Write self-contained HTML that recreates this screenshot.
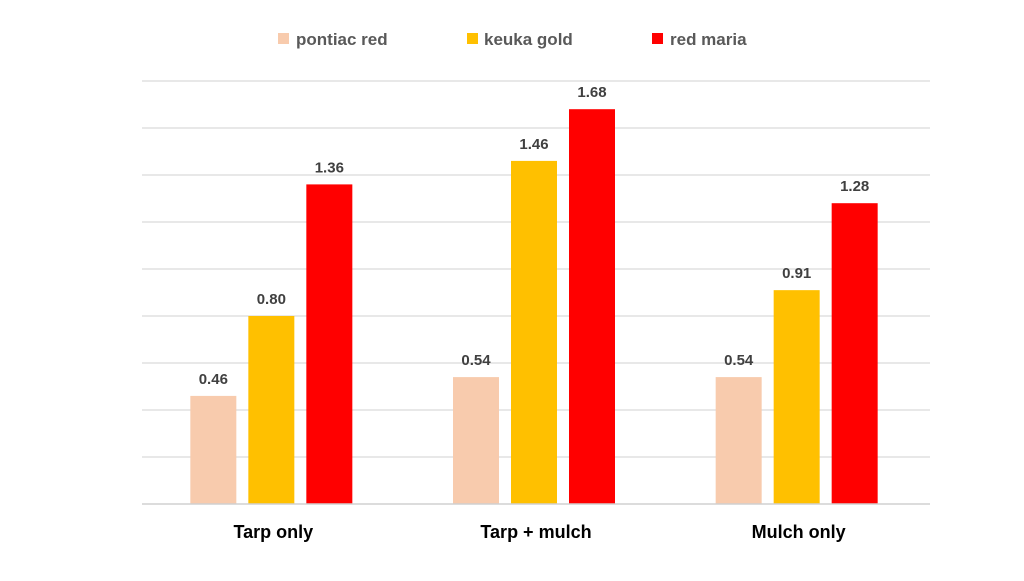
<!DOCTYPE html>
<html><head><meta charset="utf-8"><style>
body{margin:0;background:#fff;width:1024px;height:576px;overflow:hidden;font-family:"Liberation Sans",Arial,sans-serif}
text{font-family:"Liberation Sans",Arial,sans-serif;font-weight:bold}
</style></head><body>
<svg id="chart" width="1024" height="576">
<g id="legend">
<g><rect x="278" y="33" width="11" height="11" fill="#f8cbad"/><text x="296" y="45" font-size="17" fill="#595959">pontiac red</text></g>
<g><rect x="467" y="33" width="11" height="11" fill="#ffc000"/><text x="484" y="45" font-size="17" fill="#595959">keuka gold</text></g>
<g><rect x="652" y="33" width="11" height="11" fill="#ff0000"/><text x="670" y="45" font-size="17" fill="#595959">red maria</text></g>
</g>
<g id="grid"></g>
<g id="bars"></g>
<g id="labels"></g>
<g id="xaxis"></g>
</svg>
<script>
const categories=["Tarp only","Tarp + mulch","Mulch only"];
const pontiacRed=[0.46,0.54,0.54];
const keukaGold=[0.80,1.46,0.91];
const redMaria=[1.36,1.68,1.28];
const gridTicks=[0.2,0.4,0.6,0.8,1.0,1.2,1.4,1.6,1.8];
const seriesNames=["pontiac-red","keuka-gold","red-maria"];
const colors=["#f8cbad","#ffc000","#ff0000"];
const NS="http://www.w3.org/2000/svg";
const x0=142,x1=930,base=504,ppu=235;
const y=v=>base-v*ppu;
const bw=(x1-x0)/categories.length;
function mk(tag,attrs,parent){const e=document.createElementNS(NS,tag);for(const k in attrs)e.setAttribute(k,attrs[k]);parent.appendChild(e);return e;}
const grid=document.getElementById('grid'),bars=document.getElementById('bars'),labels=document.getElementById('labels'),xa=document.getElementById('xaxis');
gridTicks.forEach(t=>{const l=mk('line',{x1:x0,x2:x1,y1:y(t),y2:y(t),stroke:'#d9d9d9','stroke-width':1.3},grid);

});
const ax=mk('line',{x1:x0,x2:x1,y1:base,y2:base,stroke:'#d0d0d0','stroke-width':1.5},xa);


const series=[pontiacRed,keukaGold,redMaria];
categories.forEach((c,i)=>{
 const cx=x0+bw*(i+0.5);
 series.forEach((s,j)=>{
  const bx=cx-83+j*58;
  const r=mk('rect',{x:bx,y:y(s[i]),width:46,height:s[i]*ppu,fill:colors[j]},bars);
  
  
  const t=mk('text',{x:bx+23,y:y(s[i])-12,'text-anchor':'middle','font-size':15,fill:'#404040'},labels);
  t.textContent=s[i].toFixed(2);
  
  
 });
 const t=mk('text',{x:cx,y:538,'text-anchor':'middle','font-size':18,fill:'#000'},xa);
 t.textContent=c;
 
 
});
</script>
</body></html>
